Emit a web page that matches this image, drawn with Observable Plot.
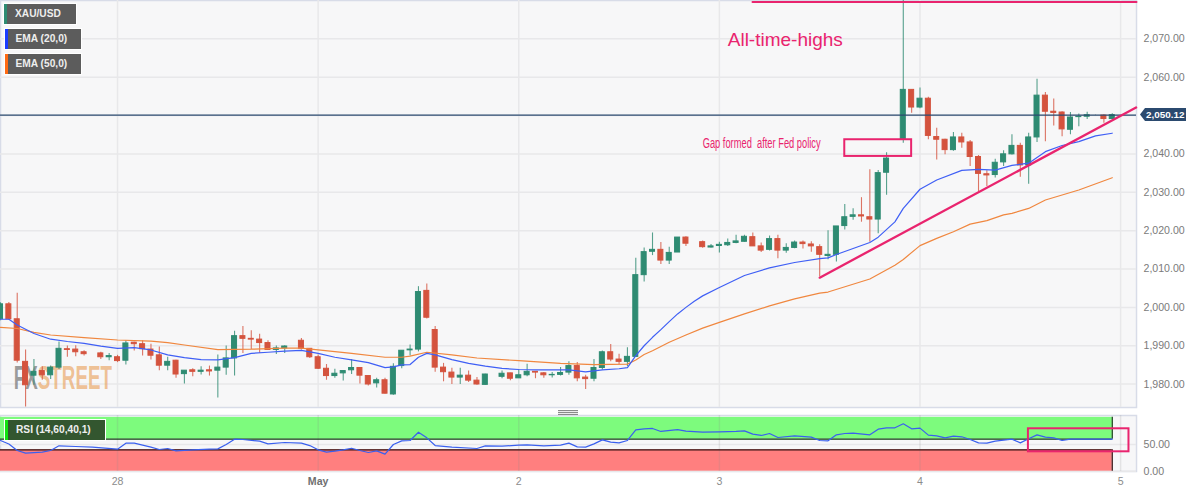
<!DOCTYPE html>
<html>
<head>
<meta charset="utf-8">
<script src="https://cdn.jsdelivr.net/npm/d3@7"></script>
<script src="https://cdn.jsdelivr.net/npm/@observablehq/plot@0.6"></script>
<style>
html,body{margin:0;padding:0;background:#fff;}
#wrap{position:relative;width:1200px;height:495px;overflow:hidden;font-family:"Liberation Sans",Arial,sans-serif;}
#wrap svg{display:block;}
.chip{position:absolute;box-sizing:border-box;height:20px;line-height:19px;color:#eeeeee;font-size:10.2px;font-weight:bold;padding-left:11px;outline:1px solid #fff;white-space:nowrap;}
.chip i{position:absolute;left:0;top:0;bottom:0;width:3px;}
#handle{position:absolute;left:558px;top:410px;width:20px;height:5px;background:repeating-linear-gradient(#8a8a8a 0 1px,#ececec 1px 2px);}
</style>
</head>
<body>
<div id="wrap">
<div id="main"></div>
<div id="rsi"></div>
<div id="handle"></div>
</div>
<script>
// Hourly candles: hour offsets from 28 April 00:00, starting at -14
const firstHour = -14;
const opens = [1996.9,2000.8,1996.9,1985.8,1982.2,1983.4,1982.3,1984.3,1989.1,1989,1988.3,1987.6,1988,1987,1987,1986.1,1990.8,1990.4,1989,1987.5,1984.8,1986.1,1982.6,1983.6,1983.2,1983.6,1983.5,1984.3,1986.7,1992.5,1991.8,1991.6,1990.7,1988.9,1989.3,1989.8,1991.3,1989.2,1987,1984,1982.1,1982.8,1983.6,1984.2,1982.1,1980.2,1981,1977.3,1984.7,1988.8,1989,2004.3,1994.1,1984.3,1983,1981.7,1982.2,1980.9,1979.8,1982.4,1981.9,1982.8,1981.5,1982.3,1983.2,1982.8,1982.3,1982.4,1983,1984.7,1981.7,1981.4,1984.2,1988.3,1986.4,1985.8,1987.1,2008.4,2014.5,2015,2012.2,2014.3,2018.2,2016.4,2017,2015.6,2016,2016.2,2016.8,2017.1,2018.3,2015.9,2015,2017.8,2014.8,2015.5,2016.9,2016.4,2015.7,2013.4,2013.7,2021.2,2023.6,2024,2023.5,2022.9,2035.1,2038.8,2043.8,2056.7,2052.1,2054.4,2044.4,2043.7,2041,2044.3,2043,2039.2,2034.7,2034.5,2037.8,2039.9,2042.1,2037,2044.3,2055.2,2051,2050.8,2046.3,2049.6,2049.7,2050.05,2050,2049.1];
const closes = [2000.8,1996.9,1986.1,1979.7,1983.2,1982.3,1984.3,1989.2,1988.9,1988.3,1987.8,1987.6,1987,1987.3,1986,1990.6,1990.4,1989.1,1987.4,1984.8,1985.8,1982.5,1983.5,1983.2,1983.5,1983.3,1984.3,1986.7,1992.5,1991.8,1991.6,1990.7,1988.9,1989.3,1989.8,1989.8,1989.2,1987,1984,1982.1,1982.7,1983.4,1984.2,1982.2,1979.9,1981,1977.5,1984.5,1988.7,1989,2004,1997.3,1984.3,1983.1,1981.7,1982.2,1980.9,1979.9,1982.5,1982.4,1982.7,1981.4,1982.3,1983.2,1983,1982.3,1982.4,1982.9,1984.7,1981.5,1981.3,1984.2,1988.3,1986.4,1985.8,1987.1,2008.4,2014.4,2015,2012.2,2014.2,2018.2,2016.6,2016.4,2015.7,2015.9,2016.3,2016.8,2017.2,2018.4,2015.9,2014.8,2017.8,2014.8,2015.5,2016.9,2016.5,2015.9,2013.7,2013.7,2021.1,2023.5,2024,2023.7,2022.9,2035,2038.8,2038.8,2056.7,2052.1,2054.4,2044.7,2043.7,2041,2044.3,2043,2039.2,2034.8,2034.4,2037.7,2039.9,2042.1,2037,2044.3,2055.2,2051,2050.7,2046.4,2049.5,2049.7,2050.1,2050.05,2049.1,2050.12];
const highs = [2001.2,2001.3,2003.7,1988.9,1986.4,1984.5,1984.7,1991,1989.9,1990,1988.7,1987.6,1988.3,1988,1987.5,1991.3,1990.9,1991.3,1990.4,1989.7,1987,1986.2,1983.5,1984,1984.5,1984.7,1987.6,1989.9,1993.8,1995,1993.9,1993,1991.3,1989.9,1990,1989.8,1991.9,1989.3,1987.6,1985.1,1983.9,1983.4,1986.4,1984.2,1982.1,1981.5,1981.5,1985.3,1988.7,1990.2,2005.4,2006.1,1995,1985.4,1984.1,1984.1,1983.4,1981.7,1982.6,1982.4,1983.4,1982.8,1983.8,1985.2,1983.2,1983,1983,1984.3,1985.8,1985.6,1982.3,1986.4,1988.6,1990.3,1987.8,1989.5,2012.8,2015.5,2019.4,2016.9,2015.7,2018.2,2018.4,2016.4,2017.3,2016.4,2017,2017.8,2018.8,2018.8,2019.4,2016.8,2018.6,2018.8,2016.6,2017.3,2017.3,2017.1,2016.3,2020,2021.1,2026.8,2025.7,2028.6,2035.9,2035.7,2040.3,2038.8,2080,2056.7,2057.2,2054.8,2046.7,2043.8,2045.6,2045.4,2043.5,2039.6,2035.6,2038.6,2040.8,2045,2042.8,2045.4,2059.5,2056,2054.3,2051,2050.8,2050.4,2050.9,2050.1,2050.2,2050.5];
const lows = [1996.5,1996.7,1985.5,1974,1979.7,1981,1981.2,1983.8,1987,1987.1,1987.3,1987.6,1986.4,1986.1,1985.6,1985,1988.6,1987.3,1986.3,1983.5,1983.5,1981.5,1980,1981.9,1982.4,1982.1,1976.4,1982.3,1982.1,1988,1989,1988,1988.8,1987.7,1988,1989.8,1988.9,1986.7,1983.8,1981,1981.5,1980.8,1982.5,1980,1979.5,1979,1977.4,1977.1,1984,1987.3,1988.4,1997,1983.1,1980.6,1979.9,1979.9,1980.4,1979.7,1979.7,1982.4,1981.4,1980.9,1981.5,1981.9,1981.4,1981.5,1981.6,1982.1,1982.3,1980.6,1978.6,1980.6,1983.7,1985.8,1985.1,1984.6,1987,2006.6,2013.5,2011.2,2011.2,2014.3,2015.9,2016.4,2015.4,2015.5,2014.2,2015.9,2016.6,2017,2015.9,2014.3,2014.7,2012.7,2014.1,2015.3,2015.2,2014.4,2007.9,2012.4,2011.8,2020.2,2022.7,2022.2,2017,2019.2,2029.2,2038.8,2042.8,2050.6,2051.8,2043.7,2038.4,2039.8,2040.7,2041.5,2036.7,2030.2,2031.5,2033.7,2036.7,2039.7,2033.9,2032.1,2043,2043.2,2047.3,2044.5,2045,2047.1,2049,2050,2048,2049];

const ema20Hours = [-14,-13,-12,-10,-8,-6,-4,-2,0,2,4,6,8,10,12,14,16,18,20,22,24,26,28,30,32,33,34,35,36,37,38,40,42,44,46,48,50,52,54,56,58,60,61,62,63,64,65,66,67,68,69,70,72,75,78,81,84,85,86,90,91,93,94,96,98,101,103,105,107,109,111,113,115,117,119];
const ema20Values = [1996.9,1996.9,1995.4,1993.2,1991.7,1991.1,1990.6,1989.9,1989.3,1989.5,1988.9,1987.6,1986.9,1986.4,1986.3,1986.9,1988,1988.3,1988.6,1988.8,1988,1987,1986.3,1985.6,1984.3,1984.5,1985,1985.1,1987,1988,1987.6,1986.4,1985.4,1984.7,1984.1,1983.8,1983.7,1983.7,1983.7,1983.2,1983.7,1984,1984.3,1987.4,1990,1992.2,1994.2,1996.3,1998.3,2000,2001.6,2003,2005.2,2008.3,2010.3,2011.7,2012.7,2012.9,2013.8,2016.9,2018.3,2022.3,2025.8,2030.8,2033.2,2035.7,2036,2035.8,2037,2037.6,2040.6,2042.2,2043.2,2044.7,2045.4];
const ema50Hours = [-14,-12,-10,-8,-4,0,4,6,8,12,16,20,22,24,28,32,34,35,37,40,43,48,53,57,61,62,63,64,66,68,70,72,75,78,81,84,85,90,93,94,96,98,100,102,104,106,107,109,111,115,119];
const ema50Values = [1994.8,1994.5,1993.5,1992.8,1992.1,1991.5,1991.2,1990.8,1990.2,1989,1989.1,1989.4,1989.4,1988.9,1988,1987,1987,1987.3,1988.3,1987.6,1986.8,1986.1,1985.4,1985.1,1985.2,1986.3,1987.7,1988.7,1990.9,1992.8,1994.6,1996.1,1998.3,2000.4,2002.2,2003.7,2004,2007.4,2011,2012.5,2016.1,2018,2019.7,2021.7,2022.6,2024.1,2024.5,2025.8,2028,2030.6,2033.8];
const rsiHours = [-14,-13,-12,-11,-9,-8,-7,-5,-3,0,1,2,4,5,6,7,9,11,12,13,14,15,17,18,20,22,23,24,25,26,27,28,29,30,31,32,33,34,35,36,37,38,40,43,44,46,48,49,51,53,54,55,56,57,58,59,60,61,62,63,64,65,67,68,70,72,74,75,76,77,78,79,81,83,84,85,86,87,88,90,91,92,93,94,95,96,97,98,99,100,101,102,103,104,105,107,108,109,110,111,112,113,114,118,119];
const rsiValues = [57.5,51,38.7,33.7,35.6,38.7,47.5,46.2,45,41.2,52.5,52.5,45,40.6,42.5,38,40,41.2,41.8,50,60,59.3,56.2,51.2,53.7,52.5,48,40,35.6,37.5,40,43,38.7,35,38,31.9,50,56.8,57.5,73,62.4,48,45,42.5,47.5,46.8,48.7,49.3,47.5,48.7,52.5,45.6,45,51.2,58.7,54.3,53,57.5,77.5,79.4,80,74.4,78,75,73,73.7,74.4,75.6,69.4,66.9,70.6,63.1,66.3,63.8,57.5,56.9,68.1,70.6,71.3,68.1,78.7,81.2,81.2,88.7,79.3,80.6,67.5,66.2,62.5,65.6,64.4,59.4,53,52.5,56.2,60,53,60.6,68,63.7,62.5,57.5,60,60,60];

const dayTickHours = [0,48,72,96,120];
const dayTickLabels = ["28","2","3","4","5"];
const monthTickHour = 24;
const monthTickLabel = "May";
const priceGrid = [1980,1990,2000,2010,2020,2030,2040,2050,2060,2070];
const priceTicks = [1980,1990,2000,2010,2020,2030,2040,2060,2070];
const rsiTicks = [0,50];
const lastPrice = 2050.12;

const trendline = [{h:84,p:2007.75},{h:121.85,p:2052.1}];
const athLine = [{h:75.96,p:2079.6},{h:121.9,p:2079.6}];
const gapBox = {h1:87,h2:95,p1:2039.35,p2:2043.7};
const rsiBox = {h1:108.97,h2:121,r1:36.3,r2:79.4};

const PINK = "#e9246e", GREEN = "#2e8b72", RED = "#d4533e", FLAT = "#444444", BLUE = "#3f5ff5", ORANGE = "#f0873f";
const xDomain = [-14,121.9];
const GRID = "#e8e8ea", BORDER = "#d8dce8", TICK = "#7b7b7b";

const candles = opens.map((o,i)=>({
  h:firstHour+i,o,c:closes[i],hi:highs[i],lo:lows[i],
  kind: Math.abs(closes[i]-o)<0.01 ? "flat" : closes[i]>o ? "up" : "down"
}));
const bodyHalf = 0.3;
const pts = (xs,ys)=>xs.map((h,i)=>({h,v:ys[i]}));
const fmt = d3.format(",.2f");

const mainPlot = Plot.plot({
  width:1200,height:410,marginLeft:0,marginRight:64,marginTop:0,marginBottom:3,
  style:{background:"transparent",fontFamily:"Liberation Sans, Arial, sans-serif"},
  x:{domain:xDomain,axis:null},
  y:{domain:[1973.9,2080],axis:null},
  color:{domain:["up","down","flat"],range:[GREEN,RED,FLAT]},
  marks:[
    Plot.frame({fill:"#f7f7f8",stroke:BORDER,strokeWidth:1.5}),
    Plot.gridY(priceGrid,{stroke:GRID,strokeWidth:1.5,strokeOpacity:1}),
    Plot.gridX([...dayTickHours,monthTickHour],{stroke:GRID,strokeWidth:1.5,strokeOpacity:1}),
    Plot.text(["FXSTREET"],{x:-12.4,y:1981.6,text:d=>d,textAnchor:"start",fill:"#e9a25c",fontSize:34,fontWeight:"bold",className:"wm"}),
    Plot.ruleX(candles,{x:"h",y1:"lo",y2:"hi",stroke:"kind",strokeWidth:1.1,strokeOpacity:.8}),
    Plot.rect(candles,{x1:d=>d.h-bodyHalf,x2:d=>d.h+bodyHalf,y1:"o",y2:"c",fill:"kind",stroke:"kind",strokeWidth:1}),
    Plot.line(pts(ema50Hours,ema50Values),{x:"h",y:"v",stroke:ORANGE,strokeWidth:1.2}),
    Plot.line(pts(ema20Hours,ema20Values),{x:"h",y:"v",stroke:BLUE,strokeWidth:1.2}),
    Plot.ruleY([lastPrice],{stroke:"#2b4a6f",strokeWidth:1.1}),
    Plot.line(trendline,{x:"h",y:"p",stroke:PINK,strokeWidth:2.3}),
    Plot.line(athLine,{x:"h",y:"p",stroke:PINK,strokeWidth:2}),
    Plot.rect([gapBox],{x1:"h1",x2:"h2",y1:"p1",y2:"p2",fill:"none",stroke:PINK,strokeWidth:2}),
    Plot.text(["All-time-highs"],{x:73,y:2069.8,text:d=>d,textAnchor:"start",fill:PINK,fontSize:19}),
    Plot.text(["Gap formed  after Fed policy"],{x:70,y:2042.6,text:d=>d,textAnchor:"start",fill:PINK,fontSize:14,className:"gaptxt"}),
    Plot.text(priceTicks,{x:xDomain[1],y:d=>d,text:d=>fmt(d),dx:7,textAnchor:"start",fill:TICK,fontSize:10.6}),
    (index,{y},values,dims)=>{
      const yy=y(lastPrice), x0=dims.width-dims.marginRight+4;
      return d3.create("svg:path")
        .attr("d",`M${x0},${yy} L${x0+5},${yy-6.5} H${x0+46} V${yy+6.5} H${x0+5} Z`)
        .attr("fill","#2b4a6f").node();
    },
    Plot.text([lastPrice],{x:xDomain[1],y:d=>d,text:d=>fmt(d),dx:9.5,textAnchor:"start",fill:"#fff",fontSize:9.9,fontWeight:"bold"})
  ]
});

const rsiPlot = Plot.plot({
  width:1200,height:85,marginLeft:0,marginRight:64,marginTop:5,marginBottom:24,
  style:{background:"transparent",fontFamily:"Liberation Sans, Arial, sans-serif"},
  x:{domain:xDomain,axis:null},
  y:{domain:[-0.6,104.3],axis:null},
  marks:[
    Plot.frame({fill:"#f7f7f8",stroke:BORDER,strokeWidth:1.5}),
    Plot.gridY(rsiTicks,{stroke:GRID,strokeWidth:1.5,strokeOpacity:1}),
    Plot.rect([{a:60,b:100.8}],{x1:xDomain[0],x2:119,y1:"a",y2:"b",fill:"#7dfb7d"}),
    Plot.rect([{a:0,b:40}],{x1:xDomain[0],x2:119,y1:"a",y2:"b",fill:"#ff7f7f"}),
    Plot.gridX([...dayTickHours,monthTickHour],{stroke:"#888",strokeWidth:1.5,strokeOpacity:.18}),
    Plot.ruleY([60],{x1:xDomain[0],x2:119,stroke:"#123a12",strokeWidth:1.2}),
    Plot.ruleY([40],{x1:xDomain[0],x2:119,stroke:"#301010",strokeWidth:1.2}),
    Plot.ruleX([119],{y1:60,y2:100.8,stroke:"#123a12",strokeWidth:1.2}),
    Plot.ruleX([119],{y1:0,y2:40,stroke:"#301010",strokeWidth:1.2}),
    Plot.line(pts(rsiHours,rsiValues),{x:"h",y:"v",stroke:"#3a60ee",strokeWidth:1.2}),
    Plot.rect([rsiBox],{x1:"h1",x2:"h2",y1:"r1",y2:"r2",fill:"none",stroke:PINK,strokeWidth:2}),
    Plot.text(rsiTicks,{x:xDomain[1],y:d=>d,text:d=>d3.format(".2f")(d),dx:7,textAnchor:"start",fill:TICK,fontSize:10.6}),
    Plot.text(dayTickHours,{x:d=>d,y:-0.6,text:(d,i)=>dayTickLabels[i],dy:10,fill:"#8c8c8c",fontSize:10.6}),
    Plot.text([monthTickHour],{x:d=>d,y:-0.6,text:()=>monthTickLabel,dy:10,fill:"#6f6f6f",fontSize:10.6,fontWeight:"bold"})
  ]
});

document.getElementById("main").append(mainPlot);
document.getElementById("rsi").append(rsiPlot);

// Condensed labels: squeeze the glyphs to the measured widths
const squeeze=(root,cls,len)=>root.querySelectorAll("."+cls+" text").forEach(t=>{t.setAttribute("textLength",len);t.setAttribute("lengthAdjust","spacingAndGlyphs");});
squeeze(mainPlot,"gaptxt",118);
// Watermark: one word, two tints
mainPlot.querySelectorAll(".wm text").forEach(t=>{
  const word=t.textContent; t.textContent="";
  const a=d3.select(t);
  a.attr("textLength",98).attr("lengthAdjust","spacingAndGlyphs");
  a.append("tspan").attr("fill","#7d7d7d").attr("fill-opacity",.75).text(word.slice(0,2));
  a.append("tspan").attr("fill","#e9a25c").attr("fill-opacity",.65).text(word.slice(2));
});

// Indicator chips
const wrap=document.getElementById("wrap");
const chips=[
  {t:"XAU/USD",c:GREEN,l:4,y:4,w:72,bg:"#5c5c5c"},
  {t:"EMA (20,0)",c:"#1a3cff",l:4.5,y:29,w:76.5,bg:"#5c5c5c"},
  {t:"EMA (50,0)",c:"#ff6a13",l:4.5,y:53.5,w:76.5,bg:"#5c5c5c"},
  {t:"RSI (14,60,40,1)",c:"#11e011",l:5,y:420,w:100,bg:"#33562f"}
];
for(const ch of chips){
  const d=document.createElement("div");
  d.className="chip";
  d.style.cssText=`left:${ch.l}px;top:${ch.y}px;width:${ch.w}px;background:${ch.bg};`;
  d.textContent=ch.t;
  const i=document.createElement("i");i.style.background=ch.c;d.prepend(i);
  wrap.append(d);
}
</script>
</body>
</html>
